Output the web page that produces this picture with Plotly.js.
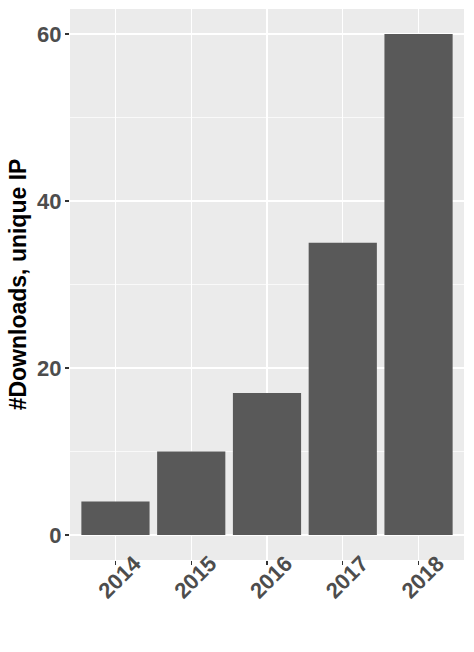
<!DOCTYPE html>
<html>
<head>
<meta charset="utf-8">
<script src="https://cdn.plot.ly/plotly-3.0.1.min.js"></script>
<style>
  html, body { margin: 0; padding: 0; background: #fff; }
  #myDiv { width: 474px; height: 652px; }
</style>
</head>
<body>
<div id="myDiv"></div>
<script>
// downloads per year, unique IP
var years = ['2014', '2015', '2016', '2017', '2018'];
var downloads = [4, 10, 17, 35, 60];
var yTicks = [0, 20, 40, 60];

var trace = {
    type: 'bar',
    x: years,
    y: downloads,
    width: 0.9,
    marker: { color: '#595959' },
    hoverinfo: 'x+y'
};

var layout = {
    width: 474,
    height: 652,
    margin: { l: 70, r: 10, t: 9, b: 92 },
    paper_bgcolor: '#ffffff',
    plot_bgcolor: '#EBEBEB',
    showlegend: false,
    font: { family: 'Liberation Sans, Arial, sans-serif' },
    xaxis: {
        type: 'category',
        range: [-0.6, 4.6],
        showgrid: true,
        gridcolor: '#ffffff',
        gridwidth: 1.4,
        zeroline: false,
        ticks: 'outside',
        ticklen: 4,
        tickwidth: 1.3,
        tickcolor: '#333333',
        tickangle: -45,
        ticklabelshift: 19,
        ticklabelstandoff: -23,
        tickfont: { size: 22, color: '#4D4D4D', family: 'Liberation Sans, Arial, sans-serif', weight: 'bold' }
    },
    yaxis: {
        range: [-3, 63],
        tickvals: yTicks,
        ticktext: yTicks.map(String),
        showgrid: true,
        gridcolor: '#ffffff',
        gridwidth: 1.4,
        zeroline: false,
        ticks: 'outside',
        ticklen: 4,
        tickwidth: 1.3,
        tickcolor: '#333333',
        ticklabelstandoff: -1,
        tickfont: { size: 22, color: '#4D4D4D', family: 'Liberation Sans, Arial, sans-serif', weight: 'bold' },
        minor: {
            tick0: 10,
            dtick: 20,
            showgrid: true,
            gridcolor: '#ffffff',
            gridwidth: 0.7,
            ticks: ''
        },
        title: {
            text: '#Downloads, unique IP',
            standoff: 4,
            font: { size: 23, color: '#000000', family: 'Liberation Sans, Arial, sans-serif', weight: 'bold' }
        }
    }
};

Plotly.newPlot('myDiv', [trace], layout, { displayModeBar: false, staticPlot: true });
</script>
</body>
</html>
